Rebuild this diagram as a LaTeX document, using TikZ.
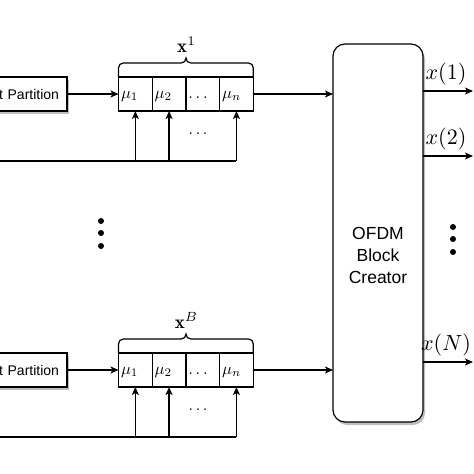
\documentclass[tikz,border=0pt]{standalone}
\usepackage{graphicx}
\usepackage{fontspec}
\newfontfamily\arialfont{Liberation Sans}
\usetikzlibrary{arrows.meta,shadows,calc}
\newcommand{\msc}[2]{\scalebox{#1}{$#2$}}
\begin{document}
\begin{tikzpicture}[x=1pt,y=-1pt,line width=1.2pt,
  arr/.style={-{Stealth[length=8pt,width=7pt,inset=2pt]}},
  shad/.style={drop shadow={shadow xshift=2pt,shadow yshift=-3pt,opacity=0.25,fill=black}},
  pbox/.style={draw,fill=white,shad,minimum height=34pt,text width=70pt,align=right,
    inner xsep=8pt,inner ysep=0pt,outer sep=0pt,font=\arialfont\fontsize{14}{17}\selectfont},
  cell/.style={draw,fill=white,minimum width=33.7pt,minimum height=34pt,text width=28.7pt,
    inner xsep=2.5pt,inner ysep=0pt,align=left,text height=12pt,text depth=3pt,
    outer sep=0pt,anchor=north west},
  mlab/.style={anchor=base,inner sep=0pt},
  ofdmbox/.style={draw,fill=white,shad,rounded corners=12pt,minimum width=90pt,
    minimum height=378pt,anchor=north west,inner sep=0pt,outer sep=0pt}
]
\useasboundingbox (0,0) rectangle (474,474);

% OFDM block
\node[ofdmbox] (ofdm) at (333,44) {};
\node[font=\arialfont\fontsize{17.5}{22}\selectfont,align=center] (ofdmt) at (378,255) {OFDM\\Block\\Creator};

\foreach \k/\dy/\sx in {1/0/1,2/276/B}{
  \node[pbox,anchor=east] (p\k) at (67,{94+\dy}) {t Partition};
  \foreach \j/\t in {1/{\mu_1},2/{\mu_2},3/{\dots},4/{\mu_n}}{
    \node[cell] (c\k-\j) at ({118.5+33.7*(\j-1)},{77+\dy}) {\msc{1.65}{\t}};
  }
  % brace
  \draw ({118.5},{77+\dy}) -- ({118.5},{68+\dy})
     .. controls ({118.5},{65+\dy}) and ({120.5},{63+\dy}) .. ({123.5},{63+\dy})
     -- ({181},{63+\dy})
     .. controls ({184},{63+\dy}) and ({186},{61+\dy}) .. ({186},{58+\dy})
     .. controls ({186},{61+\dy}) and ({188},{63+\dy}) .. ({191},{63+\dy})
     -- ({248.3},{63+\dy})
     .. controls ({251.3},{63+\dy}) and ({253.3},{65+\dy}) .. ({253.3},{68+\dy})
     -- ({253.3},{77+\dy});
  \node[mlab] (lab\k) at (186.5,{52+\dy}) {\msc{1.9}{\mathbf{x}^{\sx}}};
  \node[mlab] (d\k) at (198,{134+\dy}) {\msc{1.6}{\dots}};
  % feedback lines
  \coordinate (bl\k) at (0,{161+\dy});
  \coordinate (br\k) at (c\k-4.south |- bl\k);
  \draw (bl\k) -- (br\k);
  \draw[arr] (c\k-1.south |- bl\k) -- (c\k-1.south);
  \draw[arr] (c\k-2.south |- bl\k) -- (c\k-2.south);
  \draw[arr] (br\k) -- (c\k-4.south);
  % connections
  \draw[arr] (p\k.east) -- (c\k-1.west);
  \draw[arr] (c\k-4.east) -- (c\k-4.east -| ofdm.west);
}

% outputs
\coordinate (o1) at (473,91);
\coordinate (o2) at (473,156);
\coordinate (oN) at (473,362);
\draw[arr] (ofdm.east |- o1) -- (o1);
\draw[arr] (ofdm.east |- o2) -- (o2);
\draw[arr] (ofdm.east |- oN) -- (oN);
\node[mlab] (x1) at (446,79.5) {\msc{2.2}{x(1)}};
\node[mlab] (x2) at (446,144.5) {\msc{2.2}{x(2)}};
\node[mlab] (xN) at (446,350.5) {\msc{2.2}{x(N)}};

% vertical dots
\foreach \yy in {221,233,246}{\fill (101,\yy) circle[radius=3];}
\foreach \yy in {227,239,252}{\fill (453,\yy) circle[radius=3];}
\end{tikzpicture}
\end{document}
